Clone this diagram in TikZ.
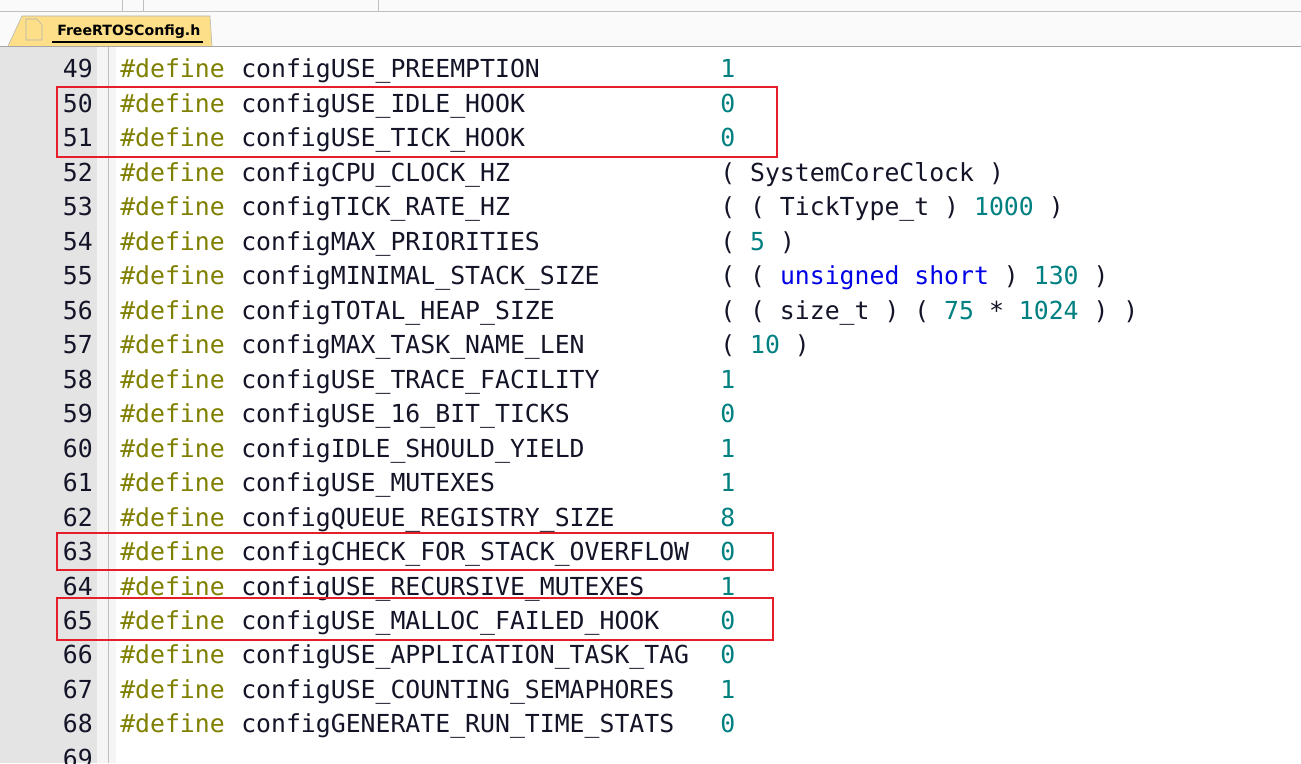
\documentclass[tikz,border=0pt]{standalone}
\usepackage{fontspec}
\setmonofont{DejaVu Sans Mono}
\setsansfont{DejaVu Sans}
\definecolor{olv}{RGB}{128,128,0}
\definecolor{tealn}{RGB}{0,128,128}
\definecolor{kwb}{RGB}{0,0,230}
\definecolor{idc}{RGB}{20,20,40}
\definecolor{gut}{RGB}{228,228,228}
\definecolor{tabc}{RGB}{253,223,138}
\definecolor{redb}{RGB}{230,30,40}
\newcommand{\nm}[1]{\textcolor{tealn}{#1}}
\newcommand{\kw}[1]{\textcolor{kwb}{#1}}
\begin{document}
\begin{tikzpicture}[x=0.75pt,y=-0.75pt,
  code/.style={anchor=base west,inner sep=0,font=\ttfamily\fontsize{18.6}{20}\selectfont,text=idc},
  lnum/.style={anchor=base east,inner sep=0,font=\ttfamily\fontsize{18.6}{20}\selectfont,text=idc},
  hl/.style={draw=redb,line width=2pt}]
\useasboundingbox (0,0) rectangle (1301,763);
\fill[white] (0,0) rectangle (1301,763);
% top bar
\fill[gray!4] (0,0) rectangle (1301,46);
\draw[gray!50] (0,11) -- (1301,11);
\draw[gray!50] (122,0) -- (122,11); \draw[gray!50] (143,0) -- (143,11);
\draw[gray!50] (378,0) -- (378,11);
% tab
\fill[tabc] (8,46) -- (22,16) -- (210,16) -- (212,46) -- cycle;
\draw[gray!60] (8,46) -- (22,16) -- (210,16) -- (212,46);
\draw[gray!60] (26,19) -- (26,40) -- (42,40) -- (42,25) -- (37,19) -- cycle;
\node[anchor=base west,inner sep=0,font=\sffamily\bfseries\fontsize{10.6}{12}\selectfont] (tab) at (57,36) {FreeRTOSConfig.h};
\draw[line width=1pt] (52,42) -- (203,42);
\draw[gray!70] (0,46) -- (1301,46);
% gutter
\fill[gut] (0,47) rectangle (97,763);
\fill[gray!8] (97,47) rectangle (116,763);
\draw[gray!50] (108,47) -- (108,763);
% lines
\foreach \n/\c/\v [count=\i from 0] in {
49/configUSE\_PREEMPTION/\nm{1},
50/configUSE\_IDLE\_HOOK/\nm{0},
51/configUSE\_TICK\_HOOK/\nm{0},
52/configCPU\_CLOCK\_HZ/{( SystemCoreClock )},
53/configTICK\_RATE\_HZ/{( ( TickType\_t ) \nm{1000} )},
54/configMAX\_PRIORITIES/{( \nm{5} )},
55/configMINIMAL\_STACK\_SIZE/{( ( \kw{unsigned} \kw{short} ) \nm{130} )},
56/configTOTAL\_HEAP\_SIZE/{( ( size\_t ) ( \nm{75} * \nm{1024} ) )},
57/configMAX\_TASK\_NAME\_LEN/{( \nm{10} )},
58/configUSE\_TRACE\_FACILITY/\nm{1},
59/configUSE\_16\_BIT\_TICKS/\nm{0},
60/configIDLE\_SHOULD\_YIELD/\nm{1},
61/configUSE\_MUTEXES/\nm{1},
62/configQUEUE\_REGISTRY\_SIZE/\nm{8},
63/configCHECK\_FOR\_STACK\_OVERFLOW/\nm{0},
64/configUSE\_RECURSIVE\_MUTEXES/\nm{1},
65/configUSE\_MALLOC\_FAILED\_HOOK/\nm{0},
66/configUSE\_APPLICATION\_TASK\_TAG/\nm{0},
67/configUSE\_COUNTING\_SEMAPHORES/\nm{1},
68/configGENERATE\_RUN\_TIME\_STATS/\nm{0}} {
  \pgfmathsetmacro{\yy}{78+34.47*\i}
  \node[lnum] (ln\n) at (93,\yy) {\n};
  \node[code,text=olv] (df\n) at (120,\yy) {\#define};
  \node[code] (id\n) at (241,\yy) {\c};
  \node[code] (va\n) at (720,\yy) {\v};
}
\node[lnum] (ln69) at (93,78+34.47*20) {69};
% highlight boxes
\draw[hl] (57,87) rectangle (777,157);
\draw[hl] (57,533) rectangle (773,570);
\draw[hl] (57,598) rectangle (773,640);
\end{tikzpicture}
\end{document}
